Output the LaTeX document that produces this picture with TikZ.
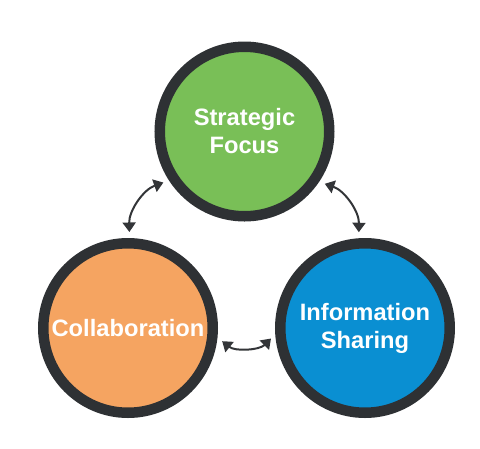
\documentclass[tikz,border=0pt]{standalone}
\usepackage{fontspec}
\setmainfont{Liberation Sans}
\usetikzlibrary{arrows.meta}
\definecolor{cgreen}{HTML}{79BF57}
\definecolor{corange}{HTML}{F5A461}
\definecolor{cblue}{HTML}{0A8FD2}
\definecolor{cborder}{HTML}{2E3134}
\definecolor{carrow}{HTML}{333538}
\begin{document}
\begin{tikzpicture}[x=1pt,y=-1pt,
  ball/.style={circle, draw=cborder, line width=10.5pt, minimum size=169.5pt, inner sep=0pt,
    text=white, font=\bfseries\fontsize{23.7}{28}\selectfont, align=center},
  link/.style={draw=carrow, line width=2pt, {Triangle[width=13pt,length=9.5pt]}-{Triangle[width=13pt,length=9.5pt]}, shorten <=6pt, shorten >=6pt}]
\useasboundingbox (0,0) rectangle (480,448);
\node[ball, fill=cgreen] (sf) at (244.5,131.5) {Strategic\\Focus};
\node[ball, fill=corange] (co) at (128,328) {Collaboration};
\node[ball, fill=cblue] (is) at (365,328) {Information\\Sharing};
\draw[link] (sf.213) to[bend right=36] (co.89);
\draw[link] (sf.326) to[bend left=36] (is.94);
\draw[link] (co.354) to[bend right=42] (is.184);
\end{tikzpicture}
\end{document}
